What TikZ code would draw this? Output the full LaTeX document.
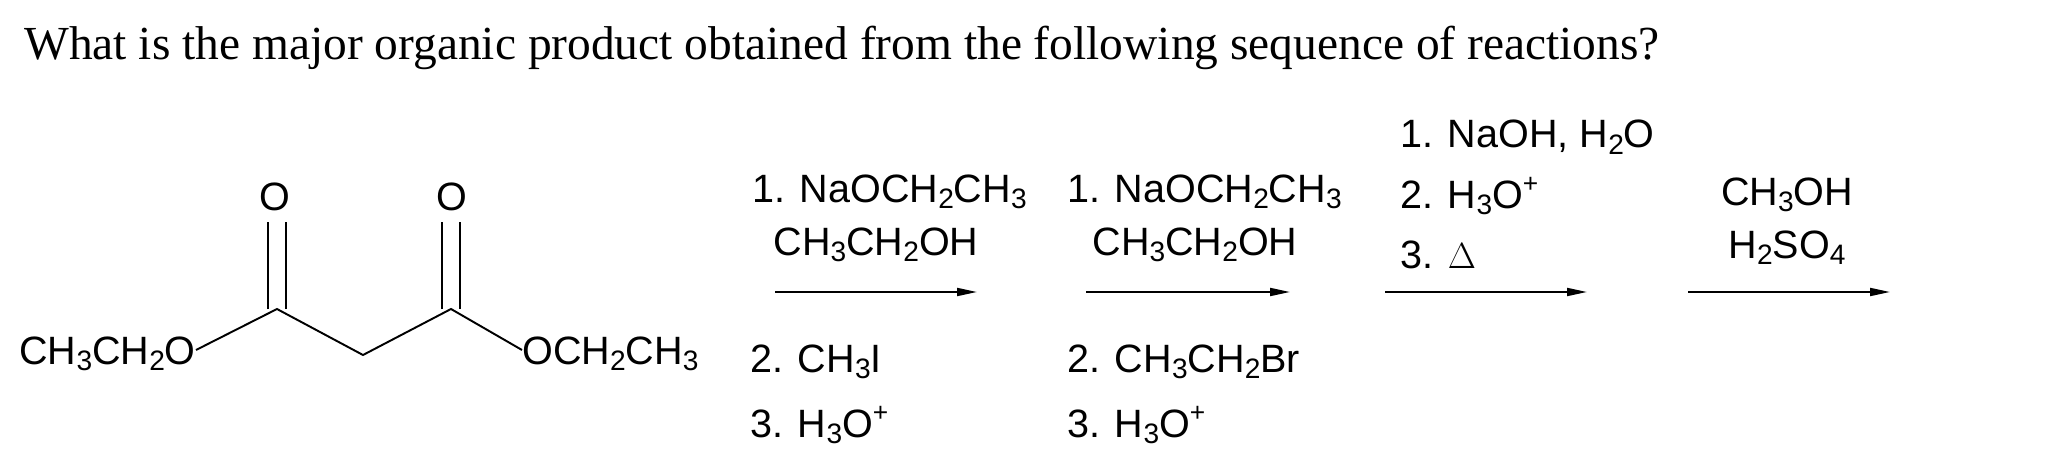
\documentclass[tikz,border=0pt]{standalone}
\usepackage{fontspec}
\setmainfont{Liberation Sans}
\newfontfamily\titlefont{Liberation Serif}
\usetikzlibrary{arrows.meta}
\newcommand{\chs}[1]{\raisebox{-0.3ex}{\fontsize{16}{16}\selectfont #1}}
\newcommand{\chp}[1]{\raisebox{0.75ex}{\fontsize{15}{15}\selectfont #1}}
\begin{document}
\begin{tikzpicture}[x=0.02cm,y=-0.02cm,
  chem/.style={font=\fontsize{22.5}{24}\selectfont,inner sep=0pt,anchor=base west},
  chemc/.style={chem,anchor=base},
  bond/.style={line width=1.1pt},
  rxn/.style={line width=1.1pt,-{Triangle[length=0.4cm,width=0.16cm]}}]
\useasboundingbox (0,0) rectangle (2046,473);
\node[anchor=base west,inner sep=0pt,font=\titlefont\fontsize{27}{29}\selectfont] (title) at (24,60) {What is the major organic product obtained from the following sequence of reactions?};
% molecule
\node[chem,anchor=base east] (oleft) at (196,364) {CH\chs{3}CH\chs{2}O};
\node[chem] (oright) at (522,364) {OCH\chs{2}CH\chs{3}};
\node[chemc] (o1) at (275,211) {O};
\node[chemc] (o2) at (452,211) {O};
\coordinate (c1) at (277,309);
\coordinate (ch2) at (363,355);
\coordinate (c2) at (451,309);
\draw[bond] (oleft.east |- 0,350) -- (c1) -- (ch2) -- (c2) -- (oright.west |- 0,350);
\draw[bond] ([xshift=-5]c1) -- ([xshift=-5]c1 |- 0,222);
\draw[bond] ([xshift=5]c1) -- ([xshift=5]c1 |- 0,222);
\draw[bond] ([xshift=-5]c2) -- ([xshift=-5]c2 |- 0,222);
\draw[bond] ([xshift=5]c2) -- ([xshift=5]c2 |- 0,222);
% arrows
\coordinate (a1s) at (775,292); \coordinate (a1e) at (977,292);
\coordinate (a2s) at (1086,292); \coordinate (a2e) at (1290,292);
\coordinate (a3s) at (1385,292); \coordinate (a3e) at (1587,292);
\coordinate (a4s) at (1688,292); \coordinate (a4e) at (1890,292);
\draw[rxn] (a1s) -- (a1e);
\draw[rxn] (a2s) -- (a2e);
\draw[rxn] (a3s) -- (a3e);
\draw[rxn] (a4s) -- (a4e);
% reagents 1
\node[chem] (r11) at (752,202) {1. NaOCH\chs{2}CH\chs{3}};
\node[chemc] (r12) at (876,255) {CH\chs{3}CH\chs{2}OH};
\node[chem] (r13) at (750,372) {2. CH\chs{3}I};
\node[chem] (r14) at (750,437) {3. H\chs{3}O\chp{+}};
% reagents 2
\node[chem] (r21) at (1067,202) {1. NaOCH\chs{2}CH\chs{3}};
\node[chemc] (r22) at (1195,255) {CH\chs{3}CH\chs{2}OH};
\node[chem] (r23) at (1067,372) {2. CH\chs{3}CH\chs{2}Br};
\node[chem] (r24) at (1067,437) {3. H\chs{3}O\chp{+}};
% reagents 3
\node[chem] (r31) at (1400,148) {1. NaOH, H\chs{2}O};
\node[chem] (r32) at (1400,208) {2. H\chs{3}O\chp{+}};
\node[chem] (r33) at (1400,268) {3. $\Delta$};
% reagents 4
\node[chemc] (r41) at (1787,205) {CH\chs{3}OH};
\node[chemc] (r42) at (1787,258) {H\chs{2}SO\chs{4}};
\end{tikzpicture}
\end{document}
